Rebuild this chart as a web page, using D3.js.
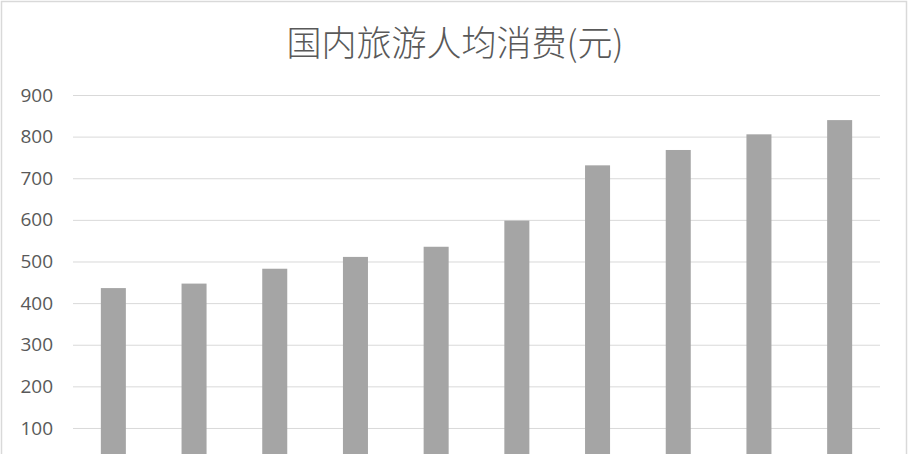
<!DOCTYPE html>
<html>
  <head>
    <meta charset="utf-8">
    <script src="https://d3js.org/d3.v7.min.js"></script>
    <title>国内旅游人均消费</title>
    <style>
      body {
        margin: 0px;
        overflow: hidden;
        background: #ffffff;
      }
      .domain {
        display: none;
      }
      .tick line {
        stroke: #d9d9d9;
        stroke-width: 1;
      }
      .tick text {
        fill: #595959;
        font-size: 19px;
        font-family: "Open Sans", sans-serif;
      }
      .chart-title {
        fill: #595959;
        font-size: 35px;
        font-weight: 300;
        font-family: "Noto Sans CJK SC", sans-serif;
      }
    </style>
  </head>
  <body>
    <svg width="909" height="454"></svg>
    <script>
      const title = '国内旅游人均消费(元)';
      const years = ['2005', '2006', '2007', '2008', '2009', '2010', '2011', '2012', '2013', '2014'];
      const spending = [436.1, 446.9, 482.6, 511.0, 535.4, 598.2, 731.0, 767.9, 805.5, 839.7];
      const yTicks = [100, 200, 300, 400, 500, 600, 700, 800, 900];

      const svg = d3.select('svg');
      const width = +svg.attr('width');
      const height = +svg.attr('height');

      // plot area (the bottom of the chart runs past the window)
      const plot = { left: 73, right: 880, top: 95, bottom: 469.6 };

      // chart border
      svg.append('rect')
          .attr('x', 1.5)
          .attr('y', 1.5)
          .attr('width', 905)
          .attr('height', height + 20)
          .attr('fill', 'none')
          .attr('stroke', '#d9d9d9')
          .attr('stroke-width', 1.5);

      const xScale = d3.scaleBand()
        .domain(years)
        .range([plot.left, plot.right])
        .paddingInner(0.69)
        .paddingOuter(0.345);

      const yScale = d3.scaleLinear()
        .domain([0, 900])
        .range([plot.bottom, plot.top]);

      const yAxis = d3.axisLeft()
        .scale(yScale)
        .tickValues(yTicks)
        .tickSize(-(plot.right - plot.left))
        .tickPadding(20);

      svg.append('g')
          .attr('transform', `translate(${plot.left},0)`)
          .call(yAxis);

      svg.append('g').selectAll('rect').data(spending)
        .enter().append('rect')
          .attr('x', (d, i) => xScale(years[i]))
          .attr('y', d => yScale(d))
          .attr('width', xScale.bandwidth())
          .attr('height', d => yScale(0) - yScale(d))
          .attr('fill', '#a5a5a5');

      svg.append('text')
          .attr('class', 'chart-title')
          .attr('x', 455)
          .attr('y', 56)
          .attr('text-anchor', 'middle')
          .text(title);
    </script>
  </body>
</html>
